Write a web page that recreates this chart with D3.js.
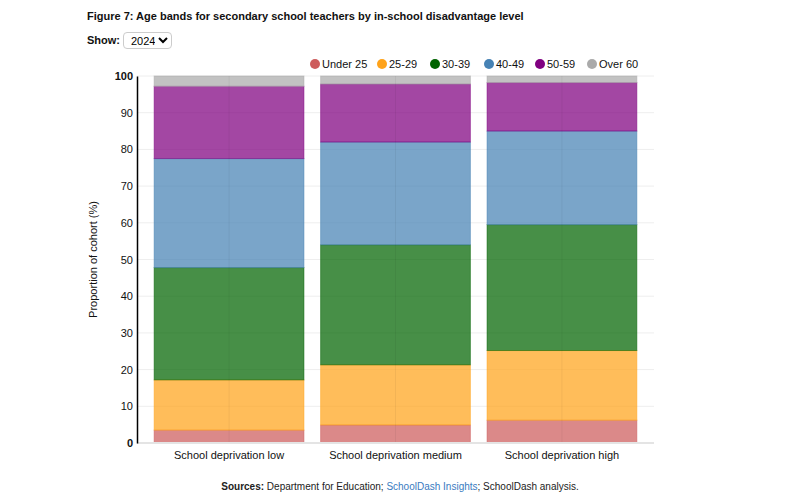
<!DOCTYPE html>
<html>
<head>
<meta charset="utf-8">
<script src="https://cdnjs.cloudflare.com/ajax/libs/d3/7.8.5/d3.min.js"></script>
<style>
  body { margin: 0; background: #fff; font-family: "Liberation Sans", Arial, Helvetica, sans-serif; }
  #chart { position: relative; width: 800px; height: 500px; }
  .title { position: absolute; left: 87px; top: 10px; font-size: 11px; font-weight: bold; color: #111; }
  .show { position: absolute; left: 87px; top: 34px; font-size: 11px; font-weight: bold; color: #111; }
  select { position: absolute; left: 123px; top: 32px; width: 49px; height: 17px; font-size: 11px;
           font-family: inherit; border: 1px solid #ccc; border-radius: 4px; background: #fff; padding: 0 0 0 3px; }
</style>
</head>
<body>
<div id="chart">
  <div class="title">Figure 7: Age bands for secondary school teachers by in-school disadvantage level</div>
  <div class="show">Show:</div>
  <select><option>2024</option></select>
</div>
<script>
const categories = ["School deprivation low", "School deprivation medium", "School deprivation high"];
const bands = ["Under 25", "25-29", "30-39", "40-49", "50-59", "Over 60"];
const under25 = [3.5, 4.9, 6.2];
const age25to29 = [13.7, 16.4, 19.0];
const age30to39 = [30.6, 32.7, 34.3];
const age40to49 = [29.7, 28.0, 25.5];
const age50to59 = [19.7, 15.8, 13.2];
const over60 = [2.8, 2.2, 1.8];
const yTicks = [0, 10, 20, 30, 40, 50, 60, 70, 80, 90, 100];
const colours = ["#cd5c5c", "#ffa31a", "#006400", "#4682b4", "#800080", "#aaaaaa"];

const series = [under25, age25to29, age30to39, age40to49, age50to59, over60];
const rows = categories.map((c, i) => {
    const r = { category: c };
    bands.forEach((b, j) => r[b] = series[j][i]);
    return r;
});

const svg = d3.select("#chart").append("svg")
    .attr("width", 800).attr("height", 500)
    .style("position", "absolute").style("left", 0).style("top", 0)
    .style("font-family", "'Liberation Sans', Arial, sans-serif");

const plotLeft = 137, plotRight = 654, plotTop = 76, plotBottom = 443;

const x = d3.scaleBand().domain(categories).range([137.5, 653.5]).padding(0.1);
const y = d3.scaleLinear().domain([0, 100]).range([plotBottom, plotTop]);
const colour = d3.scaleOrdinal().domain(bands).range(colours);

// gridlines
svg.append("g").selectAll("line")
    .data(yTicks)
    .enter().append("line")
    .attr("x1", plotLeft).attr("x2", plotRight)
    .attr("y1", d => y(d)).attr("y2", d => y(d))
    .style("stroke", "#eeeeee").style("stroke-width", 1);

const stack = d3.stack().keys(bands)(rows);

const layers = svg.append("g").selectAll("g")
    .data(stack)
    .enter().append("g")
    .style("fill", d => colour(d.key))
    .style("stroke", d => colour(d.key))
    .style("fill-opacity", 0.72)
    .style("stroke-opacity", 0.5);

layers.selectAll("rect")
    .data(d => d)
    .enter().append("rect")
    .attr("x", d => x(d.data.category))
    .attr("width", x.bandwidth())
    .attr("y", d => y(d[1]))
    .attr("height", d => y(d[0]) - y(d[1]));

// faint centre line in each bar
svg.append("g").selectAll("line")
    .data(categories)
    .enter().append("line")
    .attr("x1", d => x(d) + x.bandwidth() / 2).attr("x2", d => x(d) + x.bandwidth() / 2)
    .attr("y1", y(100)).attr("y2", y(0))
    .style("stroke", "#000").style("stroke-opacity", 0.05);

// x axis
const xAxis = svg.append("g")
    .attr("transform", `translate(0,${plotBottom})`)
    .call(d3.axisBottom(x).tickSize(0).tickPadding(8));
xAxis.select(".domain").remove();
xAxis.append("line").attr("x1", plotLeft).attr("x2", plotRight)
    .style("stroke", "#e4e4e4").style("stroke-width", 2);
xAxis.selectAll("text").style("font-size", "11px").style("fill", "#111")
    .style("font-family", "'Liberation Sans', Arial, sans-serif");

// y axis
const yAxis = svg.append("g")
    .attr("transform", `translate(${plotLeft},0)`)
    .call(d3.axisLeft(y).tickValues(yTicks).tickSize(0).tickPadding(4));
yAxis.select(".domain").style("stroke", "#000").style("stroke-width", 1.5);
yAxis.selectAll("text").style("font-size", "11px").style("fill", "#111")
    .style("font-family", "'Liberation Sans', Arial, sans-serif")
    .style("font-weight", d => (d === 0 || d === 100) ? "bold" : "normal");

svg.append("text")
    .attr("transform", `translate(97,${(plotTop + plotBottom) / 2}) rotate(-90)`)
    .attr("text-anchor", "middle")
    .style("font-size", "11px").style("fill", "#111")
    .text("Proportion of cohort (%)");

// legend
const legendX = [315, 382, 435, 489, 540, 592];
const legend = svg.append("g").selectAll("g")
    .data(bands)
    .enter().append("g")
    .attr("transform", (d, i) => `translate(${legendX[i]},64)`);
legend.append("circle").attr("r", 5).style("fill", d => colour(d));
legend.append("text").attr("x", 7).attr("dy", "0.35em")
    .style("font-size", "11px").style("fill", "#111").text(d => d);

// sources
const src = svg.append("text")
    .attr("x", 400).attr("y", 490).attr("text-anchor", "middle")
    .style("font-size", "10px").style("fill", "#222");
src.append("tspan").style("font-weight", "bold").text("Sources: ");
src.append("tspan").text("Department for Education; ");
src.append("tspan").style("fill", "#3a7bbf").text("SchoolDash Insights");
src.append("tspan").text("; SchoolDash analysis.");
</script>
</body>
</html>
